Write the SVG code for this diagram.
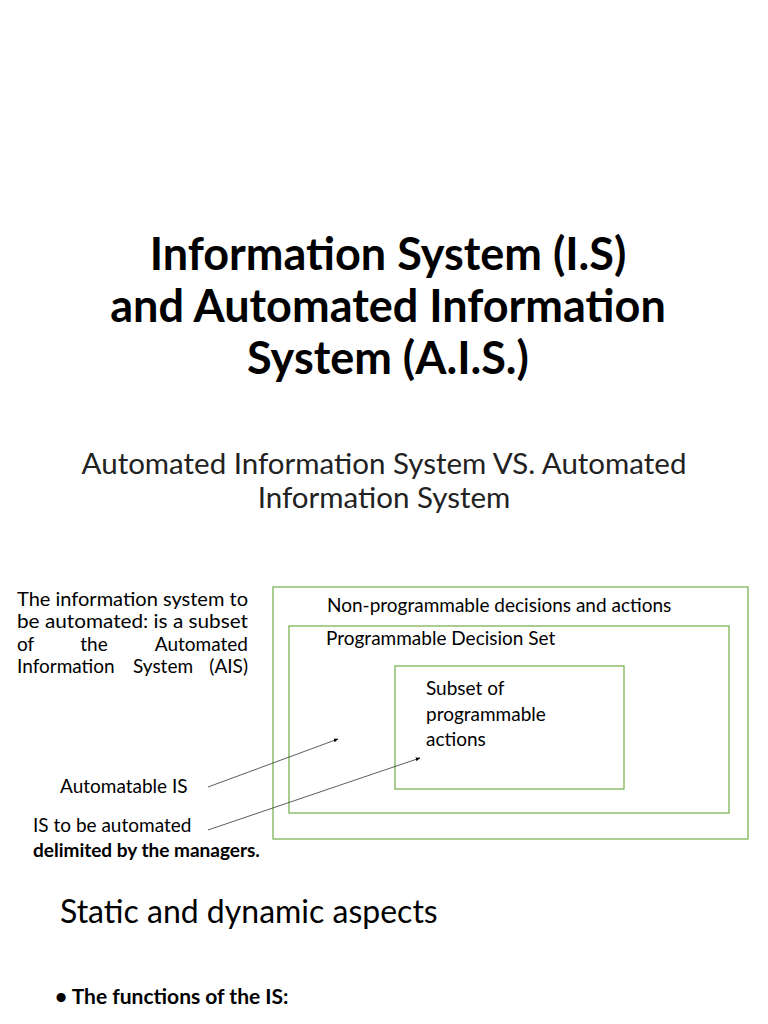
<svg xmlns="http://www.w3.org/2000/svg" width="768" height="1024" viewBox="0 0 768 1024">
<defs>
<style>
text{font-family:Lato,"Open Sans","Liberation Sans",sans-serif;fill:#000}
.t{font-size:45px;font-weight:bold;text-anchor:middle}
.s{font-size:29.5px;text-anchor:middle;fill:#222}
.b{font-size:19px}
.d{font-size:19px}
.box{fill:none;stroke:#70ad47;stroke-width:1.2}
.c{stroke:#333;stroke-width:0.8;fill:none;marker-end:url(#ah)}
</style>
<marker id="ah" viewBox="0 0 10 10" refX="9" refY="5" markerWidth="6" markerHeight="6" orient="auto"><path d="M0,1 L10,5 L0,9 Z" fill="#000"/></marker>
</defs>
<rect width="768" height="1024" fill="#fff"/>
<g id="title">
<text class="t" x="388" y="270">Information System (I.S)</text>
<text class="t" x="388" y="322">and Automated Information</text>
<text class="t" x="388" y="374">System (A.I.S.)</text>
</g>
<g id="subtitle">
<text class="s" x="384" y="474">Automated Information System VS.  Automated</text>
<text class="s" x="384" y="508">Information System</text>
</g>
<g id="desc" class="d">
<text x="17" y="606" textLength="231" lengthAdjust="spacingAndGlyphs">The information system to</text>
<text x="17" y="628" textLength="231" lengthAdjust="spacingAndGlyphs">be automated: is a subset</text>
<text x="17" y="651">of</text><text x="94" y="651" text-anchor="middle">the</text><text x="248" y="651" text-anchor="end">Automated</text>
<text x="17" y="673">Information</text><text x="163" y="673" text-anchor="middle">System</text><text x="248" y="673" text-anchor="end">(AIS)</text>
</g>
<g id="outer"><rect class="box" x="273" y="587" width="475" height="252"/>
<text class="b" x="327" y="612">Non-programmable decisions and actions</text></g>
<g id="middle"><rect class="box" x="289" y="626" width="440" height="187"/>
<text class="b" x="326" y="645">Programmable Decision Set</text></g>
<g id="inner"><rect class="box" x="395" y="666" width="229" height="123"/>
<text class="b" x="426" y="695">Subset of</text>
<text class="b" x="426" y="721">programmable</text>
<text class="b" x="426" y="746">actions</text></g>
<g id="connectors">
<line class="c" x1="208" y1="787" x2="338" y2="739"/>
<line class="c" x1="208" y1="830" x2="420" y2="758"/>
</g>
<g id="labels">
<text class="b" x="60" y="793">Automatable IS</text>
<text class="b" x="33" y="832">IS to be automated</text>
<text class="b" x="33" y="857" font-weight="bold">delimited by the managers.</text>
</g>
<text x="60" y="923" font-size="32" fill="#222">Static and dynamic aspects</text>
<text x="55" y="1004" font-size="21" font-weight="bold">• The functions of the IS:</text>
</svg>
